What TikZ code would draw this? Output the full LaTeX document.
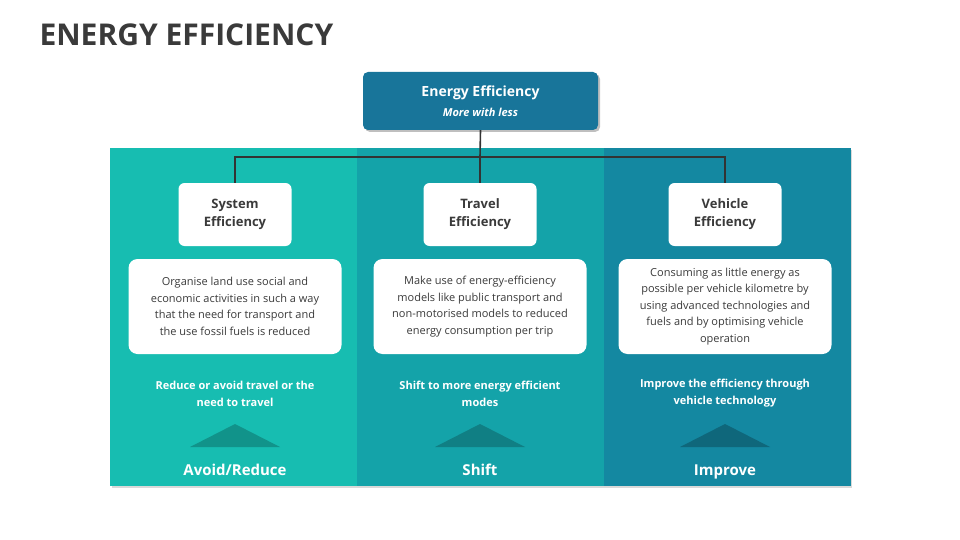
\documentclass[tikz,border=0pt]{standalone}
\usepackage{fontspec}
\setmainfont{Open Sans}
\definecolor{pA}{HTML}{17BDB1}
\definecolor{pB}{HTML}{14A3A9}
\definecolor{pC}{HTML}{1488A1}
\definecolor{tA}{HTML}{11938A}
\definecolor{tB}{HTML}{107F84}
\definecolor{tC}{HTML}{0F677B}
\definecolor{topc}{HTML}{18759A}
\definecolor{ttl}{HTML}{3A3A3A}
\definecolor{ln}{HTML}{333333}
\tikzset{
 panel/.style={draw=none,minimum height=338pt,minimum width=247pt,inner sep=0},
 headbox/.style={fill=white,rounded corners=6pt,minimum width=113pt,minimum height=63pt,align=center,font=\fontsize{13}{18}\selectfont\bfseries,text=ttl},
 descbox/.style={fill=white,rounded corners=9pt,minimum width=213pt,minimum height=95pt,align=center,font=\fontsize{11}{16.5}\selectfont,text=ttl},
 note/.style={align=center,text=white,font=\fontsize{11}{17}\selectfont\bfseries},
 lab/.style={text=white,font=\fontsize{15}{18}\selectfont\bfseries,text depth=0pt,anchor=base},
 conn/.style={draw=ln,line width=1.6pt}
}
\begin{document}
\begin{tikzpicture}[x=1pt,y=-1pt]
\useasboundingbox (0,0) rectangle (960,540);
\node[anchor=west,text=ttl,font=\fontsize{30}{36}\selectfont\bfseries] (title) at (36,35) {ENERGY EFFICIENCY};
\fill[black!15] (112,150) rectangle (852,488);
\node[panel,fill=pA] (pa) at (233.5,317) {};
\node[panel,fill=pC] (pc) at (727,317) {};
\node[panel,fill=pB] (pb) at (480.5,317) {};
\fill[black!25,rounded corners=5pt] (365,74) rectangle (600,132);
\node[fill=topc,rounded corners=5pt,minimum width=235pt,minimum height=58pt,align=center,text=white] (top) at (480.5,101)
 {{\fontsize{14}{18}\selectfont\bfseries Energy Efficiency}\\[8pt]{\fontsize{11}{14}\selectfont\bfseries\itshape More with less}};
\node[headbox] (ha) at (235,214.5) {System\\Efficiency};
\node[headbox] (hb) at (480,214.5) {Travel\\Efficiency};
\node[headbox] (hc) at (725,214.5) {Vehicle\\Efficiency};
\coordinate (j) at (480,157);
\draw[conn] (top.south) -- (j);
\draw[conn] (ha.north) |- (j) -| (hc.north);
\draw[conn] (j) -- (hb.north);
\node[descbox] (da) at (235,306.5) {Organise land use social and\\economic activities in such a way\\that the need for transport and\\the use fossil fuels is reduced};
\node[descbox] (db) at (480,306.5) {Make use of energy-efficiency\\models like public transport and\\non-motorised models to reduced\\energy consumption per trip};
\node[descbox] (dc) at (725,306.5) {Consuming as little energy as\\possible per vehicle kilometre by\\using advanced technologies and\\fuels and by optimising vehicle\\operation};
\node[note] (na) at (235,393.5) {Reduce or avoid travel or the\\need to travel};
\node[note] (nb) at (480,393.5) {Shift to more energy efficient\\modes};
\node[note] (nc) at (725,393.5) {Improve the efficiency through\\vehicle technology};
\fill[tA] (190,447) -- (235,424) -- (280,447) -- cycle;
\fill[tB] (435,447) -- (480,424) -- (525,447) -- cycle;
\fill[tC] (680,447) -- (725,424) -- (770,447) -- cycle;
\node[lab] (la) at (235,475) {Avoid/Reduce};
\node[lab] (lb) at (480,475) {Shift};
\node[lab] (lc) at (725,475) {Improve};
\end{tikzpicture}
\end{document}
